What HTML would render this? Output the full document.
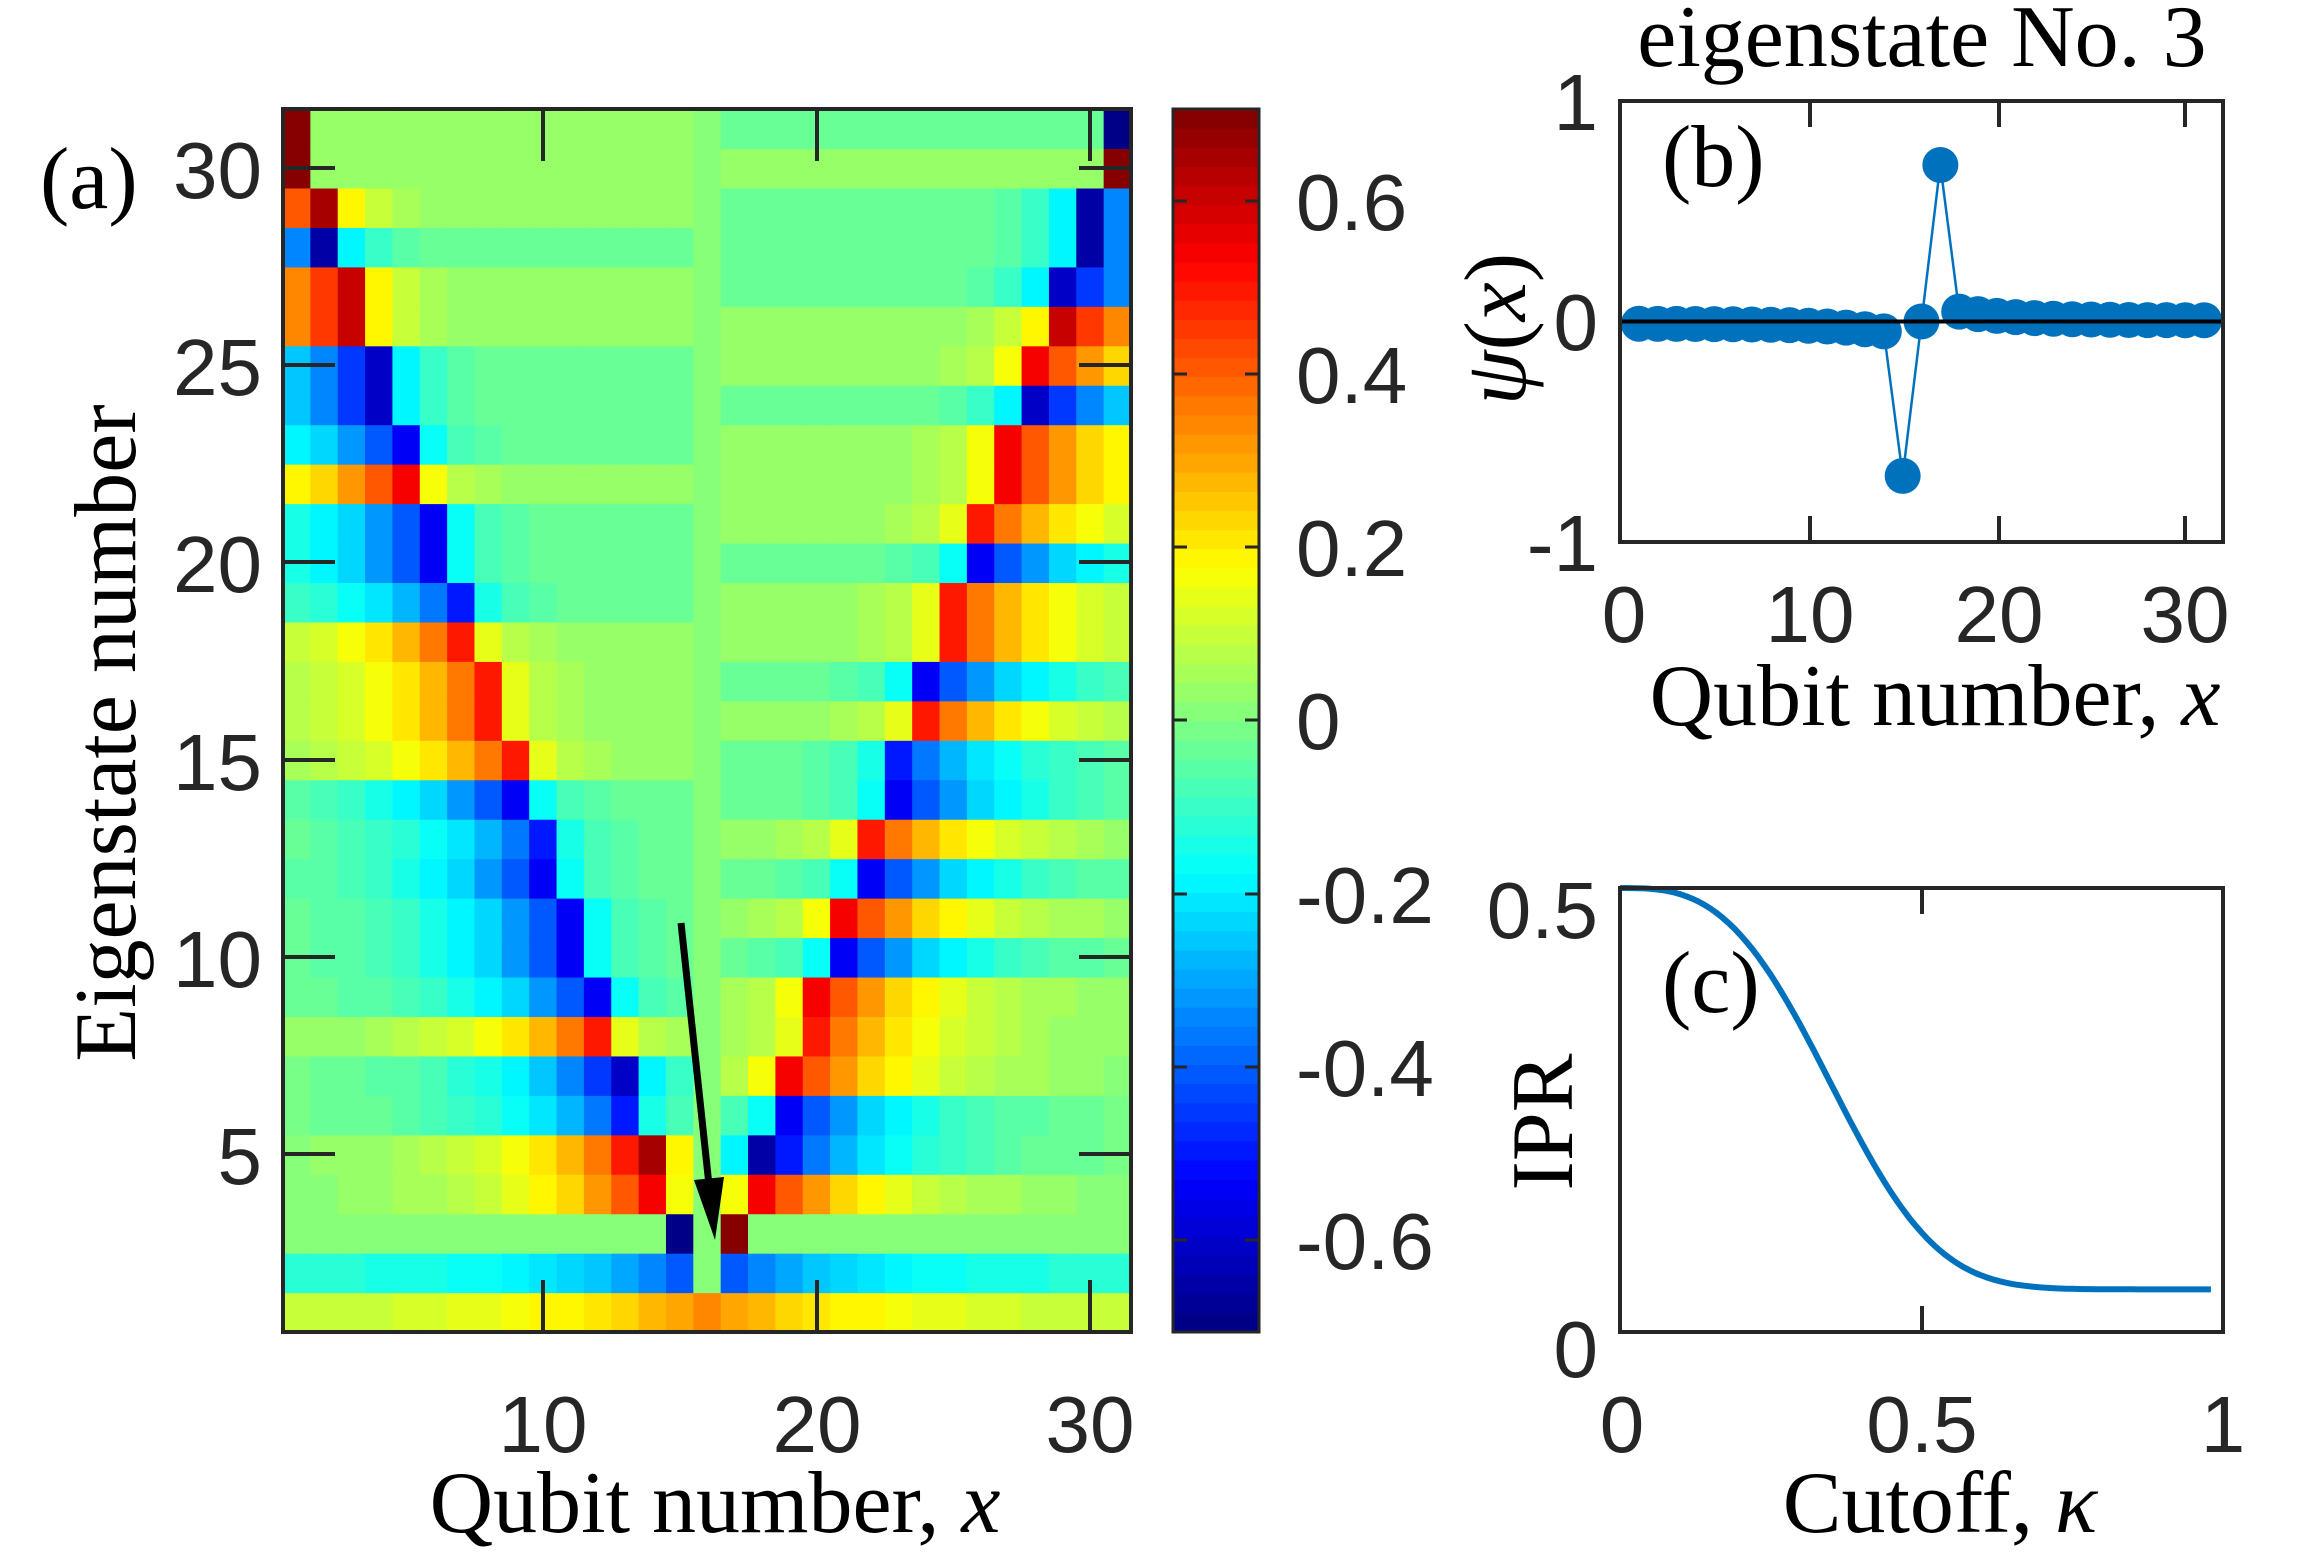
<!DOCTYPE html>
<html><head><meta charset="utf-8"><style>
html,body{margin:0;padding:0;background:#fff;}
svg{display:block;}
.t{font-family:"Liberation Sans",sans-serif;font-size:80px;fill:#262626;}
.s{font-family:"Liberation Serif",serif;font-size:88px;fill:#000;}
</style></head><body>
<svg id="sv" width="2316" height="1567" viewBox="0 0 2316 1567" xmlns="http://www.w3.org/2000/svg">
<g id="hm"></g>
<g id="cb"></g>
<g stroke="#262626" stroke-width="4" fill="none">
<rect x="283" y="109" width="848" height="1223"/>
<path d="M543 109v52M817 109v52M1090 109v52M543 1332v-52M817 1332v-52M1090 1332v-52
M283 168h52M283 365h52M283 562h52M283 760h52M283 957h52M283 1154h52
M1131 168h-52M1131 365h-52M1131 562h-52M1131 760h-52M1131 957h-52M1131 1154h-52"/>
</g>
<line x1="681" y1="923" x2="709" y2="1185" stroke="#000" stroke-width="7"/>
<polygon points="715,1240 694,1180 724,1177" fill="#000"/>
<g class="t" text-anchor="end">
<text x="262" y="198">30</text><text x="262" y="395">25</text><text x="262" y="592">20</text>
<text x="262" y="790">15</text><text x="262" y="987">10</text><text x="262" y="1184">5</text>
</g>
<g class="t" text-anchor="middle">
<text x="543" y="1452">10</text><text x="817" y="1452">20</text><text x="1090" y="1452">30</text>
</g>
<text class="s" x="715" y="1532" text-anchor="middle">Qubit number, <tspan font-style="italic">x</tspan></text>
<text class="s" x="0" y="0" text-anchor="middle" transform="translate(135,733) rotate(-90)">Eigenstate number</text>
<text class="s" x="40" y="208">(a)</text>
<rect x="1173" y="109" width="86" height="1223" fill="none" stroke="#262626" stroke-width="3"/>
<g stroke="#262626" stroke-width="3">
<path d="M1173 201h14M1259 201h-14M1173 374h14M1259 374h-14M1173 547h14M1259 547h-14M1173 720h14M1259 720h-14M1173 894h14M1259 894h-14M1173 1067h14M1259 1067h-14M1173 1240h14M1259 1240h-14"/>
</g>
<g class="t">
<text x="1296" y="230">0.6</text><text x="1296" y="403">0.4</text><text x="1296" y="576">0.2</text>
<text x="1296" y="749">0</text><text x="1296" y="923">-0.2</text><text x="1296" y="1096">-0.4</text><text x="1296" y="1269">-0.6</text>
</g>
<text class="s" x="1922" y="66" text-anchor="middle">eigenstate No. 3</text>
<g id="pb"></g>
<rect x="1620" y="101" width="603" height="441" fill="none" stroke="#262626" stroke-width="4"/>
<g stroke="#262626" stroke-width="4"><path d="M1810 101v26M1999 101v26M2185 101v26M1810 542v-26M1999 542v-26M2185 542v-26"/></g>
<g class="t" text-anchor="end">
<text x="1598" y="130">1</text><text x="1598" y="350">0</text><text x="1598" y="571">-1</text>
</g>
<g class="t" text-anchor="middle">
<text x="1624" y="642">0</text><text x="1810" y="642">10</text><text x="1999" y="642">20</text><text x="2185" y="642">30</text>
</g>
<text class="s" x="1935" y="725" text-anchor="middle">Qubit number, <tspan font-style="italic">x</tspan></text>
<text class="s" x="0" y="0" text-anchor="middle" transform="translate(1525,329) rotate(-90)"><tspan font-style="italic">ψ</tspan>(<tspan font-style="italic">x</tspan>)</text>
<text class="s" x="1662" y="186">(b)</text>
<path id="pc" fill="none" stroke="#0072BD" stroke-width="6"/>
<rect x="1620" y="888" width="603" height="444" fill="none" stroke="#262626" stroke-width="4"/>
<g stroke="#262626" stroke-width="4"><path d="M1922 888v26M1922 1332v-26"/></g>
<g class="t" text-anchor="end">
<text x="1598" y="938">0.5</text><text x="1598" y="1377">0</text>
</g>
<g class="t" text-anchor="middle">
<text x="1622" y="1452">0</text><text x="1922" y="1452">0.5</text><text x="2223" y="1452">1</text>
</g>
<text class="s" x="1940" y="1532" text-anchor="middle">Cutoff, <tspan font-style="italic">κ</tspan></text>
<text class="s" x="0" y="0" text-anchor="middle" transform="translate(1572,1122) rotate(-90)">IPR</text>
<text class="s" x="1662" y="1012">(c)</text>
</svg>
<script>
(function(){
var NS="http://www.w3.org/2000/svg";
function el(t,a,p){var e=document.createElementNS(NS,t);for(var k in a)e.setAttribute(k,a[k]);p.appendChild(e);return e;}
var CL=0.707;
function jet(v){var t=(v+CL)/(2*CL);t=Math.max(0,Math.min(0.9999,t));t=(Math.floor(t*64)+0.5)/64;
function c(x){return Math.round(255*Math.max(0,Math.min(1,x)));}
return "rgb("+c(1.5-Math.abs(4*t-3))+","+c(1.5-Math.abs(4*t-2))+","+c(1.5-Math.abs(4*t-1))+")";}
var B=[[31,1,.7,31,-.7],[30,1,.7,31,.7],[29,2,.65,30,-.65],[28,2,-.65,30,-.65],[27,3,.6,29,-.6],[26,3,.6,29,.6],
[25,4,-.6,28,.55],[24,4,-.6,28,-.6],[23,5,-.55,27,.55],[22,5,.55,27,.55],[21,6,-.55,26,.5],[20,6,-.55,26,-.55],
[19,7,-.5,25,.5],[18,7,.5,25,.5],[17,8,.5,24,-.55],[16,8,.5,24,.5],[15,9,.5,23,-.5],[14,9,-.55,23,-.55],
[13,10,-.5,22,.5],[12,10,-.55,22,-.55],[11,11,-.55,21,.55],[10,11,-.55,21,-.55],[9,12,-.55,20,.55],[8,12,.5,20,.5],
[7,13,-.6,19,.55],[6,13,-.5,19,-.55],[5,14,.65,18,-.65],[4,14,.55,18,.55]];
var G={};
for(var r=1;r<=31;r++){G[r]=[];for(var c=1;c<=31;c++)G[r][c]=0;}
B.forEach(function(b){var r=b[0],pl=b[1],al=b[2],pr=b[3],ar=b[4];var sing=(r>=30);
for(var c=1;c<=15;c++){var v;if(c==pl)v=al;else if(c<pl)v=sing?0.03*Math.sign(al):al*0.75*Math.pow(0.76,pl-c-1);
else{var k=c-pl;v=sing?0.03*Math.sign(al):al*(k==1?0.3:k==2?0.16:k==3?0.1:0.06);}G[r][c]=v;}
for(var c=17;c<=31;c++){var v;if(c==pr)v=ar;else if(c>pr)v=sing?0.03*Math.sign(ar):ar*0.75*Math.pow(0.76,c-pr-1);
else{var k=pr-c;v=sing?0.03*Math.sign(ar):ar*(k==1?0.3:k==2?0.16:k==3?0.1:0.06);}G[r][c]=v;}
});
for(var c=1;c<=31;c++){G[3][c]=(c==15?-.7:c==17?.7:0.02);
var d=Math.abs(c-16);G[2][c]=(d==0?0:-(0.1+0.3*Math.exp(-(d-1)/5)));G[1][c]=0.06+0.28*Math.exp(-d/7);}
G[31][31]=-.7;G[30][31]=.7;G[29][1]=.4;G[29][31]=-.35;G[28][1]=-.35;G[28][31]=-.35;
var hm=document.getElementById("hm");var cw=848/31,ch=1223/31;
for(var r=1;r<=31;r++)for(var c=1;c<=31;c++){
el("rect",{x:(283+(c-1)*cw).toFixed(2),y:(1332-r*ch).toFixed(2),width:(cw+0.6).toFixed(2),height:(ch+0.6).toFixed(2),fill:jet(G[r][c])},hm);}
var cb=document.getElementById("cb");var bh=1223/64;
for(var i=0;i<64;i++){var v=-CL+(i+0.5)*2*CL/64;el("rect",{x:1173,y:(1332-(i+1)*bh).toFixed(2),width:86,height:(bh+0.6).toFixed(2),fill:jet(v)},cb);}
var pb=document.getElementById("pb");
function X(x){return 1620+x*603/32;}function Y(y){return 321.5-y*220.5;}
var ps=[];for(var x=1;x<=31;x++){var y;
if(x<=14)y=-0.01-0.035*Math.exp(-(14-x)/3);else if(x==15)y=-0.7;else if(x==16)y=0;else if(x==17)y=0.71;else y=0.005+0.04*Math.exp(-(x-18)/3);
ps.push([X(x),Y(y)]);}
el("polyline",{points:ps.map(function(p){return p[0].toFixed(1)+","+p[1].toFixed(1)}).join(" "),fill:"none",stroke:"#0072BD","stroke-width":2.5},pb);
ps.forEach(function(p){el("circle",{cx:p[0],cy:p[1],r:18,fill:"#0072BD"},pb);});
el("line",{x1:1620,y1:321.5,x2:2223,y2:321.5,stroke:"#000","stroke-width":4},pb);
var d="";for(var i=0;i<=98;i++){var k=i/100;var v=0.048+0.452*Math.exp(-Math.pow(k/0.4,3));
d+=(i?"L":"M")+(1620+k*603).toFixed(1)+" "+(1332-v*888).toFixed(1);}
document.getElementById("pc").setAttribute("d",d);
})();
</script>
</body></html>
